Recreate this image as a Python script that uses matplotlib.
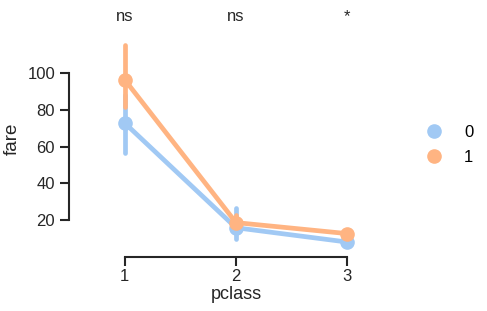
import matplotlib
matplotlib.use("Agg")
import matplotlib.pyplot as plt
from matplotlib import font_manager

# regular-width Liberation Sans file (the name alone can pick the Narrow one)
paths = [f.fname for f in font_manager.fontManager.ttflist
         if f.fname.endswith('LiberationSans-Regular.ttf')]
path = paths[0] if paths else None


def fprop(size):
    if path:
        return font_manager.FontProperties(fname=path, size=size)
    return font_manager.FontProperties(family='DejaVu Sans', size=size)


classes = ["1", "2", "3"]
hue_labels = ["0", "1"]
# mean fare and CI per class, for each hue level
mean0 = [72.8, 15.8, 8.0]
lo0 = [56.5, 9.7, 6.8]
hi0 = [88.0, 26.5, 9.3]
mean1 = [96.4, 18.6, 12.6]
lo1 = [81.5, 14.5, 10.8]
hi1 = [115.2, 23.0, 14.6]
stars = ["ns", "ns", "*"]

colors = ["#a1c9f4", "#ffb482"]
dark = "#262626"

W, H = 487, 311
fig = plt.figure(figsize=(W / 100, H / 100), dpi=100)
ax = fig.add_axes([69 / W, 1 - 243 / H, 334 / W, 208 / H])

xs = range(len(classes))
for means, lo, hi, c, lab in [(mean0, lo0, hi0, colors[0], hue_labels[0]),
                               (mean1, lo1, hi1, colors[1], hue_labels[1])]:
    for x, a, b in zip(xs, lo, hi):
        ax.plot([x, x], [a, b], color=c, lw=3.4, solid_capstyle='round',
                zorder=2, clip_on=False)
    ax.plot(xs, means, color=c, lw=3.4, marker='o', ms=9.5, label=lab,
            zorder=3, clip_on=False)

ax.set_xlim(-0.5, 2.5)
ax.set_ylim(7.5, 120.7)
ax.set_xticks(list(xs))
ax.set_xticklabels(classes)
ax.set_yticks([20, 40, 60, 80, 100])

for s in ["top", "right"]:
    ax.spines[s].set_visible(False)
ax.spines["bottom"].set_position(("outward", 10))
ax.spines["bottom"].set_bounds(0, 2)
ax.spines["left"].set_bounds(20, 100)
for s in ["bottom", "left"]:
    ax.spines[s].set_linewidth(1.5)
    ax.spines[s].set_color(dark)
ax.tick_params(length=6.5, width=1.5, pad=3.5, color=dark, labelcolor=dark)
ax.tick_params(axis='x', pad=2.5)
for t in ax.get_xticklabels() + ax.get_yticklabels():
    t.set_fontproperties(fprop(12))

ax.set_xlabel("pclass", fontproperties=fprop(13), color=dark, labelpad=1)
ax.set_ylabel("fare", fontproperties=fprop(13.5), color=dark, labelpad=5)

for x, s in zip(xs, stars):
    ax.text(x, (243 - 21) / 208, s, transform=ax.get_xaxis_transform(),
            ha='center', va='baseline', fontproperties=fprop(12), color=dark)

leg = fig.legend(loc='center left', bbox_to_anchor=(409 / W, 1 - 145 / H),
                 frameon=False, prop=fprop(12), handlelength=1.2,
                 handletextpad=1.2, labelspacing=0.6)
for h in leg.legend_handles:
    h.set_linestyle('none')

fig.savefig("out.png", dpi=100)
